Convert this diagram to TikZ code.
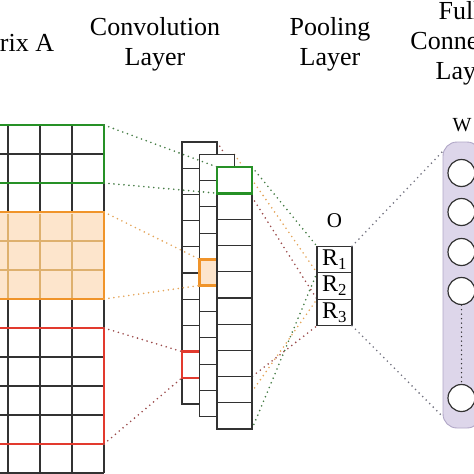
\documentclass[tikz,border=0pt]{standalone}
\usepackage{fontspec}
\setmainfont{Liberation Serif}
\usepackage{tikz}
\usetikzlibrary{positioning, calc, backgrounds}
\definecolor{matgreen}{RGB}{38,145,38}
\definecolor{matorange}{RGB}{240,148,42}
\definecolor{matred}{RGB}{226,58,46}
\definecolor{peach}{RGB}{253,229,204}
\definecolor{golden}{RGB}{222,176,110}
\definecolor{gridgray}{RGB}{50,50,50}
\definecolor{fcfill}{RGB}{221,214,234}
\definecolor{fcdraw}{RGB}{176,166,198}
\definecolor{dotgreen}{RGB}{70,125,70}
\definecolor{dotorange}{RGB}{228,165,90}
\definecolor{dotred}{RGB}{155,75,75}
\definecolor{dotgray}{RGB}{115,115,128}

\begin{document}
\begin{tikzpicture}[x=1pt, y=-1pt,
  title/.style={align=center, inner sep=0pt, font=\fontsize{26}{30}\selectfont},
  lab/.style={inner sep=0pt, font=\fontsize{21}{24}\selectfont},
  gridline/.style={draw=gridgray, line width=1.1pt},
  window/.style={draw, line width=2.6pt, inner sep=0pt, outer sep=0pt, minimum width=164pt},
  convcell/.style={draw=gridgray, fill=white, line width=1.1pt, inner sep=0pt, outer sep=0pt, minimum width=35pt, minimum height=26.2pt},
  hl/.style={line width=2.6pt},
  poolcell/.style={draw=gridgray, fill=white, line width=1.1pt, inner sep=0pt, outer sep=0pt, minimum width=35pt, minimum height=26.5pt, font=\fontsize{24}{26}\selectfont},
  neuron/.style={circle, draw=gridgray, fill=white, line width=1.2pt, minimum size=27pt, inner sep=0pt},
  dotline/.style={line width=1.8pt, line cap=round, dash pattern=on 0pt off 5pt}
]
  \useasboundingbox (0,0) rectangle (474,474);
  \clip (0,0) rectangle (474,474);

  % Titles
  \node[title] (tmat) at (6,43) {Matrix A};
  \node[title] (tconv) at (155,44) {Convolution\\Layer};
  \node[title] (tpool) at (330,44) {Pooling\\Layer};
  \node[title] (tfc) at (466,43) {Fully\\Connected\\Layer};

  % Matrix A
  \foreach \r in {0,...,12}
    \draw[gridline] (-60,{125+29*\r}) -- (104,{125+29*\r});
  \foreach \xx in {-56,-24,8,40,72,104}
    \draw[gridline] (\xx,125) -- (\xx,473);
  \node[window, draw=matgreen, minimum height=58pt] (win1) at (22,154) {};
  \node[window, draw=matorange, fill=peach, minimum height=87pt] (win2) at (22,255.5) {};
  \foreach \yy in {241,270}
    \draw[golden, line width=1.1pt] (-60,\yy) -- (103,\yy);
  \foreach \xx in {-24,8,40,72}
    \draw[golden, line width=1.1pt] (\xx,213.5) -- (\xx,297.5);
  \node[window, draw=matred, minimum height=116pt] (win3) at (22,386) {};

  % Convolution layer
  \foreach \j in {0,...,9}
    \node[convcell] (c1-\j) at (199.5,{155.1+26.2*\j}) {};
  \draw[hl, matred] (c1-8.north west) rectangle (c1-8.south east);
  \foreach \j in {0,...,9}
    \node[convcell] (c2-\j) at (217,{167.6+26.2*\j}) {};
  \draw[hl, matorange, fill=peach] (c2-4.north west) rectangle (c2-4.south east);
  \foreach \j in {0,...,9}
    \node[convcell] (c3-\j) at (234.5,{180.1+26.2*\j}) {};
  \draw[hl, matgreen] (c3-0.north west) rectangle (c3-0.south east);

  \draw[dotline, dotgreen] (win1.north east) -- (c3-0.north west);
  \draw[dotline, dotgreen] (win1.south east) -- (c3-0.south west);
  \draw[dotline, dotorange] (win2.north east) -- (c2-4.north west);
  \draw[dotline, dotorange] (win2.south east) -- (c2-4.south west);
  \draw[dotline, dotred] (win3.north east) -- (c1-8.north west);
  \draw[dotline, dotred] (win3.south east) -- (c1-8.south west);

  % Pooling layer
  \node[poolcell] (r1) at (334.5,259.5) {R\textsubscript{1}};
  \node[poolcell, below=0pt of r1] (r2) {R\textsubscript{2}};
  \node[poolcell, below=0pt of r2] (r3) {R\textsubscript{3}};
  \node[lab, above=18pt of r1] (olab) {O};

  \begin{scope}[on background layer]
    \draw[dotline, dotgreen] (c3-0.north east) -- (r1.north west);
    \draw[dotline, dotgreen] (c3-9.south east) -- (r1.south west);
    \draw[dotline, dotorange] (c2-0.north east) -- (r2.north west);
    \draw[dotline, dotorange] (c2-9.south east) -- (r2.south west);
    \draw[dotline, dotred] (c1-0.north east) -- (r3.north west);
    \draw[dotline, dotred] (c1-9.south east) -- (r3.south west);
  \end{scope}

  % Fully connected layer
  \node[draw=fcdraw, fill=fcfill, line width=0.9pt, rounded corners=14pt, minimum width=38pt, minimum height=286pt] (fc) at (462,285) {};
  \node[lab, font=\fontsize{20}{24}\selectfont, above=10pt of fc] (wlab) {W};
  \foreach \i/\yy in {1/173, 2/212, 3/252, 4/291, 5/398}
    \node[neuron] (n\i) at (461.5,\yy) {};
  \draw[gridgray, line width=1.5pt, line cap=round, dash pattern=on 0pt off 4.5pt] (n4) -- (n5);

  \draw[dotline, dotgray] (r1.north east) -- ([yshift=-10pt]fc.north west);
  \draw[dotline, dotgray] (r3.south east) -- ([yshift=12pt]fc.south west);
\end{tikzpicture}
\end{document}
